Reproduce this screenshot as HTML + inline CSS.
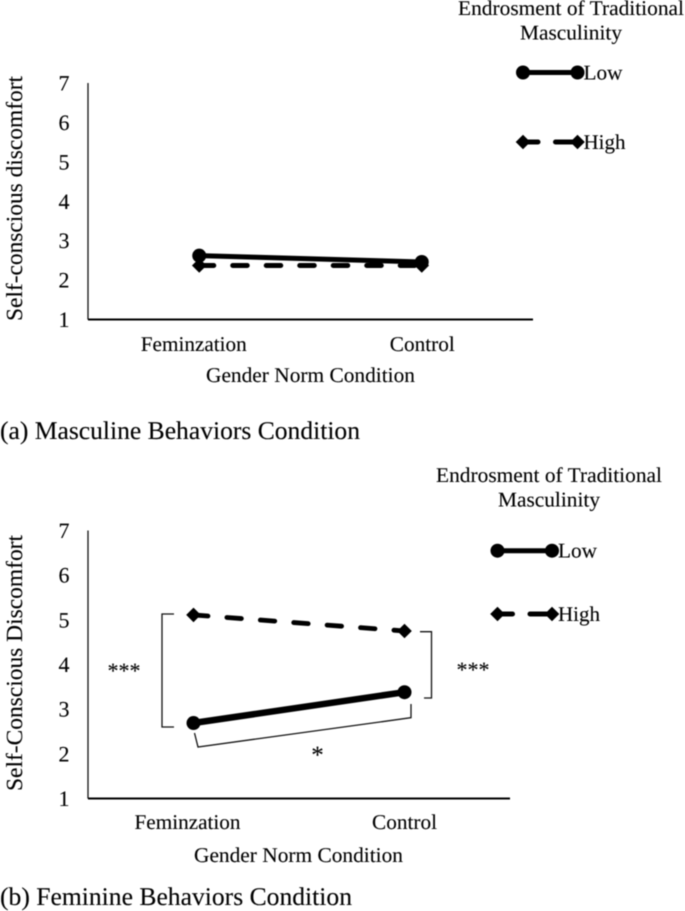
<!DOCTYPE html>
<html>
<head>
<meta charset="utf-8">
<style>
html,body{margin:0;padding:0;background:#fff;width:685px;height:911px;overflow:hidden}
svg{display:block;filter:blur(0.45px)}
text{font-family:"Liberation Serif",serif;fill:#000;font-size:20px;stroke:#000;stroke-width:0.1px;text-rendering:geometricPrecision}
</style>
</head>
<body>
<svg id="chart" xmlns="http://www.w3.org/2000/svg" width="685" height="911" viewBox="0 0 685 911"></svg>
<script>
var categories = ['Feminzation', 'Control'];
var yTicks = [1, 2, 3, 4, 5, 6, 7];
var lowA = [2.62, 2.46];
var highA = [2.37, 2.37];
var lowB = [2.69, 3.38];
var highB = [5.11, 4.75];

var svg = document.getElementById('chart');
var NS = 'http://www.w3.org/2000/svg';
function make(tag, attrs, parent, txt) {
  var e = document.createElementNS(NS, tag);
  for (var k in attrs) e.setAttribute(k, attrs[k]);
  if (txt !== undefined) e.textContent = txt;
  (parent || svg).appendChild(e);
  return e;
}
function label(parent, name, x, y, str, anchor, size, len) {
  var a = {x: x, y: y, 'text-anchor': anchor || 'middle'};
  if (size) a.style = 'font-size:' + size + 'px';
  if (len) { a.textLength = len; a.lengthAdjust = 'spacingAndGlyphs'; }
  var t = make('text', a, parent, str);
  
  
  return t;
}
function circleMark(parent, x, y) {
  var c = make('circle', {cx: x, cy: y, r: 7, fill: '#000'}, parent);
  
  
}
function diamondMark(parent, x, y) {
  var s = 7.3;
  var p = make('polygon', {points: (x - s) + ',' + y + ' ' + x + ',' + (y - s) + ' ' + (x + s) + ',' + y + ' ' + x + ',' + (y + s), fill: '#000'}, parent);
  
  
}
function drawPanel(cfg) {
  var g = make('g', {});
  
  
  var yScale = function (v) { return cfg.bottom - (v - 1) * (cfg.bottom - cfg.top) / 6; };
  var xScale = function (i) { return cfg.left + (i + 0.5) * (cfg.right - cfg.left) / categories.length; };
  var ya = make('line', {x1: cfg.left, x2: cfg.left, y1: cfg.top, y2: cfg.bottom, stroke: '#111', 'stroke-width': 1.3}, g);
  
  
  var xa = make('line', {x1: cfg.left, x2: cfg.right, y1: cfg.bottom, y2: cfg.bottom, stroke: '#000', 'stroke-width': 2}, g);
  
  
  yTicks.forEach(function (t) {
    label(g, 'y-tick-label', 64, yScale(t) + 7.5, String(t), 'middle', 22);
  });
  categories.forEach(function (c, i) {
    label(g, 'x-tick-label', xScale(i) + cfg.catShift[i], cfg.catY, c, 'middle', 21, cfg.catLen[i]);
  });
  label(g, 'x-axis-title', cfg.xTitleX, cfg.xTitleY, 'Gender Norm Condition', 'middle', 21, 209);
  var yt = label(g, 'y-axis-title', 0, 0, cfg.yTitle, 'middle', 23, cfg.yTitleLen);
  yt.setAttribute('transform', 'translate(22,' + cfg.yTitleY + ') rotate(-90)');
  label(g, 'panel-caption', 0, cfg.capY, cfg.caption, 'start', 25.5, cfg.capLen);

  function series(vals, name, width, dash, mark) {
    var pts = vals.map(function (v, i) { return xScale(i) + ',' + yScale(v); }).join(' ');
    var a = {points: pts, fill: 'none', stroke: '#000', 'stroke-width': width};
    if (dash) { a['stroke-dasharray'] = dash; a['stroke-linecap'] = 'round'; }
    var l = make('polyline', a, g);
    
    
    vals.forEach(function (v, i) { mark(g, xScale(i), yScale(v)); });
  }
  series(cfg.high, 'high-series-line', cfg.hw, '14.5 19', diamondMark);
  series(cfg.low, 'low-series-line', cfg.lw, null, circleMark);

  var lg = make('g', {}, g);
  
  
  label(lg, 'legend-title', cfg.lgTitleX, cfg.lgTitleY, 'Endrosment of Traditional', 'middle', 21, 226);
  label(lg, 'legend-title', cfg.lgTitleX, cfg.lgTitleY + 24.5, 'Masculinity', 'middle', 21, 102);
  var l1 = make('line', {x1: cfg.lgX1, x2: cfg.lgX2, y1: cfg.lgLowY, y2: cfg.lgLowY, stroke: '#000', 'stroke-width': 5}, lg);
  
  
  circleMark(lg, cfg.lgX1, cfg.lgLowY);
  circleMark(lg, cfg.lgX2, cfg.lgLowY);
  label(lg, 'legend-low-label', cfg.lgX2 + 6, cfg.lgLowY + 7, 'Low', 'start', 21, 39);
  var l2 = make('line', {x1: cfg.lgX1, x2: cfg.lgX2, y1: cfg.lgHighY, y2: cfg.lgHighY, stroke: '#000', 'stroke-width': 5, 'stroke-dasharray': '15 17.5 30', 'stroke-linecap': 'round'}, lg);
  
  
  diamondMark(lg, cfg.lgX1, cfg.lgHighY);
  diamondMark(lg, cfg.lgX2, cfg.lgHighY);
  label(lg, 'legend-high-label', cfg.lgX2 + 6, cfg.lgHighY + 7, 'High', 'start', 21, 42);
  return {g: g, x: xScale, y: yScale};
}

drawPanel({
  name: 'panel-a', left: 88, right: 533, top: 83, bottom: 319.5,
  low: lowA, high: highA, lw: 5, hw: 5,
  catY: 351, catShift: [-5.5, 0.5], catLen: [106, 65],
  xTitleX: 310.5, xTitleY: 382,
  yTitle: 'Self-conscious discomfort', yTitleY: 198.5, yTitleLen: 245,
  caption: '(a) Masculine Behaviors Condition', capY: 439, capLen: 360,
  lgTitleX: 571, lgTitleY: 15, lgX1: 523, lgX2: 577.5, lgLowY: 72.5, lgHighY: 142
});
var panelB = drawPanel({
  name: 'panel-b', left: 88, right: 510, top: 530.5, bottom: 798.5,
  low: lowB, high: highB, lw: 6.5, hw: 4.8,
  catY: 829, catShift: [-6, 0], catLen: [106, 65],
  xTitleX: 298.5, xTitleY: 862,
  yTitle: 'Self-Conscious Discomfort', yTitleY: 663, yTitleLen: 256,
  caption: '(b) Feminine Behaviors Condition', capY: 905, capLen: 352,
  lgTitleX: 549, lgTitleY: 482, lgX1: 497.5, lgX2: 552, lgLowY: 550.7, lgHighY: 614
});

function bracket(name, d) {
  var p = make('path', {d: d, fill: 'none', stroke: '#111', 'stroke-width': 1.3}, panelB.g);
  
  
}
bracket('left-significance-bracket', 'M174 614H162V727H174');
bracket('right-significance-bracket', 'M420 631.7H431.5V698H424');
bracket('bottom-significance-bracket', 'M194.5 733L198 747L411 717.7V704');
label(panelB.g, 'left-significance-stars', 124, 678, '***', 'middle', 22, 33);
label(panelB.g, 'right-significance-stars', 473, 677, '***', 'middle', 22, 33);
label(panelB.g, 'bottom-significance-star', 317.5, 763, '*', 'middle', 25);
</script>
</body>
</html>
